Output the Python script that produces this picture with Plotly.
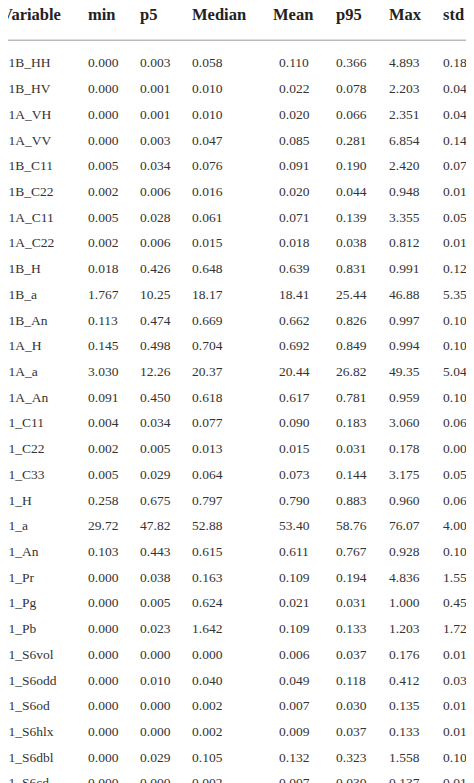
import plotly.graph_objects as go

variables = ["S1B_HH","S1B_HV","S1A_VH","S1A_VV","S1B_C11","S1B_C22","S1A_C11","S1A_C22",
             "S1B_H","S1B_a","S1B_An","S1A_H","S1A_a","S1A_An","S1_C11","S1_C22","S1_C33",
             "S1_H","S1_a","S1_An","S1_Pr","S1_Pg","S1_Pb","S1_S6vol","S1_S6odd","S1_S6od",
             "S1_S6hlx","S1_S6dbl","S1_S6cd"]
min_v = ["0.000","0.000","0.000","0.000","0.005","0.002","0.005","0.002","0.018","1.767","0.113",
         "0.145","3.030","0.091","0.004","0.002","0.005","0.258","29.72","0.103","0.000","0.000",
         "0.000","0.000","0.000","0.000","0.000","0.000","0.000"]
p5_v = ["0.003","0.001","0.001","0.003","0.034","0.006","0.028","0.006","0.426","10.25","0.474",
        "0.498","12.26","0.450","0.034","0.005","0.029","0.675","47.82","0.443","0.038","0.005",
        "0.023","0.000","0.010","0.000","0.000","0.029","0.000"]
median_v = ["0.058","0.010","0.010","0.047","0.076","0.016","0.061","0.015","0.648","18.17","0.669",
            "0.704","20.37","0.618","0.077","0.013","0.064","0.797","52.88","0.615","0.163","0.624",
            "1.642","0.000","0.040","0.002","0.002","0.105","0.002"]
mean_v = ["0.110","0.022","0.020","0.085","0.091","0.020","0.071","0.018","0.639","18.41","0.662",
          "0.692","20.44","0.617","0.090","0.015","0.073","0.790","53.40","0.611","0.109","0.021",
          "0.109","0.006","0.049","0.007","0.009","0.132","0.007"]
p95_v = ["0.366","0.078","0.066","0.281","0.190","0.044","0.139","0.038","0.831","25.44","0.826",
         "0.849","26.82","0.781","0.183","0.031","0.144","0.883","58.76","0.767","0.194","0.031",
         "0.133","0.037","0.118","0.030","0.037","0.323","0.030"]
max_v = ["4.893","2.203","2.351","6.854","2.420","0.948","3.355","0.812","0.991","46.88","0.997",
         "0.994","49.35","0.959","3.060","0.178","3.175","0.960","76.07","0.928","4.836","1.000",
         "1.203","0.176","0.412","0.135","0.133","1.558","0.137"]
std_v = ["0.185","0.042","0.042","0.145","0.075","0.017","0.058","0.016","0.127","5.358","0.109",
         "0.107","5.045","0.101","0.069","0.009","0.055","0.065","4.003","0.100","1.550","0.450",
         "1.720","0.015","0.037","0.011","0.013","0.109","0.011"]
headers = ["Variable","min","p5","Median","Mean","p95","Max","std"]

columns = [variables, min_v, p5_v, median_v, mean_v, p95_v, max_v, std_v]
col_x = [-7, 80, 132, 184, 271, 328, 381, 435]
head_x = [-7, 80, 132, 184, 265, 328, 381, 435]
n = len(variables)
FONT = "Liberation Serif, DejaVu Serif, Times New Roman, serif"

fig = go.Figure()
for col, x in zip(columns, col_x):
    fig.add_trace(go.Scatter(
        x=[x]*n, y=list(range(n)), text=col, mode="text",
        textposition="middle right",
        textfont=dict(family=FONT, size=13.5, color="#333333"),
        hoverinfo="skip", showlegend=False, cliponaxis=True))
fig.add_trace(go.Scatter(
    x=head_x, y=[-1.87]*len(headers),
    text=[f"<b>{h}</b>" for h in headers], mode="text",
    textposition="middle right",
    textfont=dict(family=FONT, size=16.5, color="#222222"),
    hoverinfo="skip", showlegend=False, cliponaxis=True))

fig.add_shape(type="line", xref="paper", x0=0, x1=1, yref="y", y0=-0.93, y1=-0.93,
              line=dict(color="#bbbbbb", width=1.5))

fig.update_layout(
    width=474, height=783, margin=dict(l=0, r=0, t=0, b=0),
    paper_bgcolor="white", plot_bgcolor="white",
    xaxis=dict(range=[0, 474], visible=False, fixedrange=True),
    yaxis=dict(range=[28.27, -2.18], visible=False, fixedrange=True),
)
fig.write_html("out.html")
